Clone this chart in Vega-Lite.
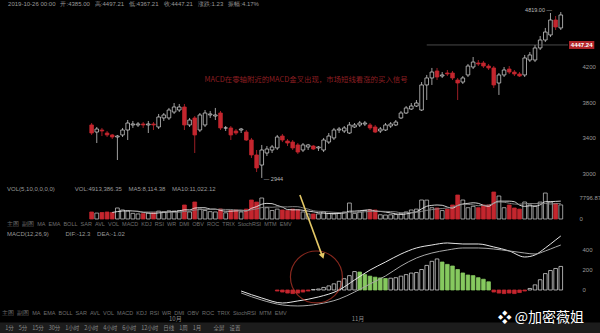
{
  "$schema": "https://vega.github.io/schema/vega-lite/v6.json",
  "background": "#000000",
  "padding": 0,
  "spacing": 0,
  "bounds": "flush",
  "config": {
    "view": {"stroke": null},
    "axis": {"labelColor": "#9a9a9a", "labelFontSize": 6, "labelFont": "Liberation Sans", "ticks": false, "domain": false, "grid": false},
    "text": {"font": "Liberation Sans"}
  },
  "datasets": {
    "candles": [
      {"i":0,"o":3543,"h":3565,"l":3430,"c":3452,"v":2480},
      {"i":1,"o":3463,"h":3520,"l":3339,"c":3497,"v":2100},
      {"i":2,"o":3486,"h":3509,"l":3418,"c":3475,"v":2300},
      {"i":3,"o":3452,"h":3475,"l":3407,"c":3430,"v":2480},
      {"i":4,"o":3430,"h":3441,"l":3384,"c":3407,"v":2300,"m5":2332},
      {"i":5,"o":3407,"h":3430,"l":3147,"c":3418,"v":3900,"m5":2616},
      {"i":6,"o":3430,"h":3509,"l":3407,"c":3486,"v":3200,"m5":2836},
      {"i":7,"o":3486,"h":3599,"l":3373,"c":3565,"v":2800,"m5":2936},
      {"i":8,"o":3543,"h":3588,"l":3509,"c":3554,"v":2000,"m5":2840},
      {"i":9,"o":3543,"h":3576,"l":3520,"c":3554,"v":1800,"m5":2740,"m10":2536},
      {"i":10,"o":3554,"h":3576,"l":3509,"c":3543,"v":1900,"m5":2340,"m10":2478},
      {"i":11,"o":3543,"h":3588,"l":3452,"c":3554,"v":2100,"m5":2120,"m10":2478},
      {"i":12,"o":3554,"h":3576,"l":3486,"c":3543,"v":2200,"m5":2000,"m10":2468},
      {"i":13,"o":3520,"h":3667,"l":3497,"c":3633,"v":2800,"m5":2160,"m10":2500},
      {"i":14,"o":3622,"h":3678,"l":3588,"c":3656,"v":2600,"m5":2320,"m10":2530},
      {"i":15,"o":3622,"h":3735,"l":3599,"c":3712,"v":2900,"m5":2520,"m10":2430},
      {"i":16,"o":3689,"h":3791,"l":3667,"c":3746,"v":2800,"m5":2660,"m10":2390},
      {"i":17,"o":3712,"h":3780,"l":3689,"c":3746,"v":3000,"m5":2820,"m10":2410},
      {"i":18,"o":3746,"h":3780,"l":3486,"c":3543,"v":4960,"m5":3252,"m10":2706},
      {"i":19,"o":3543,"h":3622,"l":3520,"c":3599,"v":2500,"m5":3232,"m10":2776},
      {"i":20,"o":3622,"h":3644,"l":3226,"c":3430,"v":6020,"m5":3856,"m10":3188},
      {"i":21,"o":3486,"h":3678,"l":3463,"c":3656,"v":3500,"m5":3996,"m10":3328},
      {"i":22,"o":3543,"h":3712,"l":3520,"c":3678,"v":3000,"m5":3996,"m10":3408},
      {"i":23,"o":3656,"h":3701,"l":3622,"c":3667,"v":2600,"m5":3524,"m10":3388},
      {"i":24,"o":3644,"h":3735,"l":3599,"c":3656,"v":2500,"m5":3524,"m10":3378},
      {"i":25,"o":3678,"h":3701,"l":3486,"c":3509,"v":3540,"m5":3028,"m10":3442},
      {"i":26,"o":3509,"h":3531,"l":3475,"c":3509,"v":2200,"m5":2768,"m10":3382},
      {"i":27,"o":3509,"h":3531,"l":3373,"c":3430,"v":3000,"m5":2768,"m10":3382},
      {"i":28,"o":3475,"h":3497,"l":3430,"c":3452,"v":3190,"m5":2886,"m10":3205},
      {"i":29,"o":3486,"h":3509,"l":3452,"c":3497,"v":2500,"m5":2886,"m10":3205},
      {"i":30,"o":3463,"h":3486,"l":3362,"c":3373,"v":3500,"m5":2878,"m10":2953},
      {"i":31,"o":3373,"h":3396,"l":3170,"c":3204,"v":6730,"m5":3784,"m10":3276},
      {"i":32,"o":3204,"h":3260,"l":3011,"c":3057,"v":6000,"m5":4384,"m10":3576},
      {"i":33,"o":3090,"h":3317,"l":2944,"c":3260,"v":7440,"m5":5234,"m10":4060},
      {"i":34,"o":3226,"h":3305,"l":3192,"c":3271,"v":4000,"m5":5534,"m10":4210},
      {"i":35,"o":3260,"h":3317,"l":3226,"c":3294,"v":3000,"m5":5434,"m10":4156},
      {"i":36,"o":3283,"h":3430,"l":3260,"c":3407,"v":3500,"m5":4788,"m10":4286},
      {"i":37,"o":3418,"h":3441,"l":3350,"c":3373,"v":3200,"m5":4228,"m10":4306},
      {"i":38,"o":3362,"h":3384,"l":3305,"c":3339,"v":3000,"m5":3340,"m10":4287},
      {"i":39,"o":3350,"h":3373,"l":3260,"c":3283,"v":3500,"m5":3240,"m10":4387},
      {"i":40,"o":3317,"h":3339,"l":3215,"c":3237,"v":3190,"m5":3278,"m10":4356},
      {"i":41,"o":3260,"h":3339,"l":3237,"c":3317,"v":2500,"m5":3078,"m10":3933},
      {"i":42,"o":3294,"h":3328,"l":3260,"c":3317,"v":1800,"m5":2798,"m10":3513},
      {"i":43,"o":3305,"h":3317,"l":3260,"c":3271,"v":1770,"m5":2552,"m10":2946},
      {"i":44,"o":3283,"h":3305,"l":3249,"c":3294,"v":1800,"m5":2212,"m10":2726},
      {"i":45,"o":3260,"h":3396,"l":3237,"c":3373,"v":2500,"m5":2074,"m10":2676},
      {"i":46,"o":3350,"h":3452,"l":3328,"c":3418,"v":1900,"m5":1954,"m10":2516},
      {"i":47,"o":3396,"h":3509,"l":3373,"c":3486,"v":1770,"m5":1948,"m10":2373},
      {"i":48,"o":3486,"h":3520,"l":3452,"c":3497,"v":2000,"m5":1994,"m10":2273},
      {"i":49,"o":3475,"h":3531,"l":3452,"c":3509,"v":2480,"m5":2130,"m10":2171},
      {"i":50,"o":3452,"h":3576,"l":3441,"c":3543,"v":5660,"m5":2762,"m10":2418},
      {"i":51,"o":3520,"h":3565,"l":3509,"c":3543,"v":2000,"m5":2782,"m10":2368},
      {"i":52,"o":3543,"h":3588,"l":3520,"c":3565,"v":2500,"m5":2928,"m10":2438},
      {"i":53,"o":3554,"h":3588,"l":3531,"c":3565,"v":3000,"m5":3128,"m10":2561},
      {"i":54,"o":3543,"h":3565,"l":3486,"c":3509,"v":3190,"m5":3270,"m10":2700},
      {"i":55,"o":3520,"h":3543,"l":3452,"c":3463,"v":3190,"m5":2776,"m10":2769},
      {"i":56,"o":3475,"h":3520,"l":3452,"c":3497,"v":1500,"m5":2676,"m10":2729},
      {"i":57,"o":3486,"h":3565,"l":3475,"c":3543,"v":1400,"m5":2456,"m10":2692},
      {"i":58,"o":3531,"h":3576,"l":3509,"c":3554,"v":1500,"m5":2156,"m10":2642},
      {"i":59,"o":3543,"h":3599,"l":3531,"c":3576,"v":1600,"m5":1838,"m10":2554},
      {"i":60,"o":3622,"h":3701,"l":3610,"c":3678,"v":2000,"m5":1600,"m10":2188},
      {"i":61,"o":3678,"h":3757,"l":3667,"c":3735,"v":2500,"m5":1800,"m10":2238},
      {"i":62,"o":3723,"h":3791,"l":3712,"c":3757,"v":3190,"m5":2158,"m10":2307},
      {"i":63,"o":3757,"h":3825,"l":3746,"c":3791,"v":3500,"m5":2558,"m10":2357},
      {"i":64,"o":3712,"h":4028,"l":3701,"c":3995,"v":6730,"m5":3584,"m10":2711},
      {"i":65,"o":3995,"h":4108,"l":3825,"c":4074,"v":6700,"m5":4524,"m10":3062},
      {"i":66,"o":4074,"h":4187,"l":3995,"c":4141,"v":4000,"m5":4824,"m10":3312},
      {"i":67,"o":4153,"h":4187,"l":4051,"c":4085,"v":3900,"m5":4966,"m10":3562},
      {"i":68,"o":4096,"h":4141,"l":4074,"c":4108,"v":3000,"m5":4866,"m10":3712},
      {"i":69,"o":4130,"h":4164,"l":4096,"c":4119,"v":3500,"m5":4220,"m10":3902},
      {"i":70,"o":4130,"h":4153,"l":4051,"c":4074,"v":4960,"m5":3872,"m10":4198},
      {"i":71,"o":4051,"h":4074,"l":3825,"c":4017,"v":8500,"m5":4772,"m10":4798},
      {"i":72,"o":4028,"h":4096,"l":4006,"c":4074,"v":6730,"m5":5338,"m10":5152},
      {"i":73,"o":4108,"h":4232,"l":4085,"c":4209,"v":4000,"m5":5538,"m10":5202},
      {"i":74,"o":4198,"h":4311,"l":4175,"c":4254,"v":4500,"m5":5738,"m10":4979},
      {"i":75,"o":4243,"h":4277,"l":4209,"c":4232,"v":4000,"m5":5546,"m10":4709},
      {"i":76,"o":4243,"h":4266,"l":4187,"c":4209,"v":4960,"m5":4838,"m10":4805},
      {"i":77,"o":4209,"h":4232,"l":4164,"c":4187,"v":4960,"m5":4484,"m10":4911},
      {"i":78,"o":4187,"h":4209,"l":3961,"c":3995,"v":9560,"m5":5596,"m10":5567},
      {"i":79,"o":4017,"h":4130,"l":3882,"c":4108,"v":8150,"m5":6326,"m10":6032},
      {"i":80,"o":4108,"h":4198,"l":4085,"c":4164,"v":4000,"m5":6326,"m10":5936},
      {"i":81,"o":4175,"h":4209,"l":4119,"c":4141,"v":4960,"m5":6326,"m10":5582},
      {"i":82,"o":4141,"h":4164,"l":4096,"c":4119,"v":3900,"m5":6114,"m10":5299},
      {"i":83,"o":4119,"h":4141,"l":4085,"c":4096,"v":3500,"m5":4902,"m10":5249},
      {"i":84,"o":4108,"h":4334,"l":4085,"c":4300,"v":6020,"m5":4476,"m10":5401},
      {"i":85,"o":4277,"h":4367,"l":4254,"c":4334,"v":5000,"m5":4676,"m10":5501},
      {"i":86,"o":4277,"h":4447,"l":4254,"c":4413,"v":4500,"m5":4584,"m10":5455},
      {"i":87,"o":4413,"h":4548,"l":4390,"c":4503,"v":6000,"m5":5004,"m10":5559},
      {"i":88,"o":4503,"h":4639,"l":4480,"c":4593,"v":9200,"m5":6144,"m10":5523},
      {"i":89,"o":4560,"h":4808,"l":4537,"c":4729,"v":6000,"m5":6140,"m10":5308},
      {"i":90,"o":4729,"h":4774,"l":4616,"c":4650,"v":5500,"m5":6240,"m10":5458},
      {"i":91,"o":4639,"h":4819,"l":4616,"c":4786,"v":5000,"m5":6340,"m10":5462}
    ],
    "hist": [
      {"i":36,"h":-10},{"i":37,"h":-20},{"i":38,"h":-30},{"i":39,"h":-35},{"i":40,"h":-30},
      {"i":41,"h":-20},{"i":42,"h":-10},{"i":43,"h":5},{"i":44,"h":10},{"i":45,"h":25},
      {"i":46,"h":40},{"i":47,"h":60},{"i":48,"h":85},{"i":49,"h":110},{"i":50,"h":140},
      {"i":51,"h":180},{"i":52,"h":175},{"i":53,"h":150},{"i":54,"h":135},{"i":55,"h":125},
      {"i":56,"h":118},{"i":57,"h":112},{"i":58,"h":115},{"i":59,"h":120},{"i":60,"h":135},
      {"i":61,"h":150},{"i":62,"h":165},{"i":63,"h":170},{"i":64,"h":200},{"i":65,"h":240},
      {"i":66,"h":280},{"i":67,"h":303},{"i":68,"h":273},{"i":69,"h":250},{"i":70,"h":234},
      {"i":71,"h":200},{"i":72,"h":166},{"i":73,"h":146},{"i":74,"h":140},{"i":75,"h":120},
      {"i":76,"h":105},{"i":77,"h":80},{"i":78,"h":-20},{"i":79,"h":-30},{"i":80,"h":-35},
      {"i":81,"h":-30},{"i":82,"h":-35},{"i":83,"h":-25},{"i":84,"h":-10},{"i":85,"h":15},
      {"i":86,"h":50},{"i":87,"h":100},{"i":88,"h":160},{"i":89,"h":190},{"i":90,"h":210},
      {"i":91,"h":230}
    ],
    "lines": [
      {"i":29,"dif":-10,"dea":-29},{"i":33,"dif":-78,"dea":-98},{"i":37,"dif":-127,"dea":-146},
      {"i":40,"dif":-107,"dea":-156},{"i":44,"dif":-68,"dea":-137},{"i":48,"dif":0,"dea":-88},
      {"i":51,"dif":98,"dea":-20},{"i":54,"dif":195,"dea":59},{"i":57,"dif":273,"dea":137},
      {"i":60,"dif":351,"dea":234},{"i":63,"dif":410,"dea":312},{"i":66,"dif":439,"dea":361},
      {"i":69,"dif":459,"dea":390},{"i":72,"dif":449,"dea":410},{"i":75,"dif":449,"dea":410},
      {"i":78,"dif":420,"dea":400},{"i":81,"dif":381,"dea":381},{"i":84,"dif":322,"dea":361},
      {"i":86,"dif":342,"dea":351},{"i":88,"dif":410,"dea":381},{"i":90,"dif":488,"dea":420},
      {"i":91,"dif":527,"dea":439}
    ]
  },
  "vconcat": [
    {
      "width": 573,
      "height": 185,
      "layer": [
        {
          "data": {"name": "candles"},
          "mark": {"type": "rule", "strokeWidth": 0.8},
          "encoding": {
            "x": {"field": "i", "type": "quantitative", "scale": {"domain": [-16.8, 92.4], "nice": false, "zero": false}, "axis": null},
            "y": {"field": "l", "type": "quantitative", "scale": {"domain": [2864.5, 4955], "nice": false, "zero": false},
                  "axis": {"orient": "right", "values": [3000, 3200, 3400, 3600, 3800, 4000, 4200, 4600], "format": "d", "title": null, "labelPadding": 9, "minExtent": 27, "maxExtent": 27}},
            "y2": {"field": "h"},
            "color": {"condition": {"test": "datum.c < datum.o", "value": "#c4262e"}, "value": "#c8c8c8"}
          }
        },
        {
          "data": {"name": "candles"},
          "mark": {"type": "bar", "size": 3.6, "strokeWidth": 0.8},
          "encoding": {
            "x": {"field": "i", "type": "quantitative", "scale": {"domain": [-16.8, 92.4], "nice": false, "zero": false}},
            "y": {"field": "o", "type": "quantitative", "scale": {"domain": [2864.5, 4955], "nice": false, "zero": false}},
            "y2": {"field": "c"},
            "fill": {"condition": {"test": "datum.c < datum.o", "value": "#c4262e"}, "value": "#000000"},
            "stroke": {"condition": {"test": "datum.c < datum.o", "value": "#c4262e"}, "value": "#c8c8c8"}
          }
        },
        {
          "data": {"values": [{}]},
          "mark": {"type": "rule", "color": "#6a6a6a", "strokeWidth": 0.7, "clip": false},
          "encoding": {
            "x": {"datum": 65, "type": "quantitative"},
            "x2": {"datum": 92.4},
            "y": {"datum": 4447, "type": "quantitative"}
          }
        },
        {
          "data": {"values": [{}]},
          "mark": {"type": "rect", "color": "#b3262b", "clip": false},
          "encoding": {
            "x": {"datum": 92.6, "type": "quantitative"},
            "x2": {"datum": 97.5},
            "y": {"datum": 4492, "type": "quantitative"},
            "y2": {"datum": 4402}
          }
        },
        {
          "data": {"values": [{}]},
          "mark": {"type": "text", "color": "#ffffff", "fontSize": 6, "fontWeight": "bold", "align": "center", "baseline": "middle", "clip": false},
          "encoding": {
            "x": {"datum": 95.05, "type": "quantitative"},
            "y": {"datum": 4447, "type": "quantitative"},
            "text": {"value": "4447.24"}
          }
        },
        {
          "data": {"values": [{}]},
          "mark": {"type": "text", "color": "#9a9a9a", "fontSize": 6, "align": "left", "baseline": "middle"},
          "encoding": {
            "x": {"datum": -16.2, "type": "quantitative"},
            "y": {"datum": 4905, "type": "quantitative"},
            "text": {"value": "2019-10-26 00:00\u00a0\u00a0\u00a0开:4385.00\u00a0\u00a0\u00a0高:4497.21\u00a0\u00a0\u00a0低:4367.21\u00a0\u00a0\u00a0收:4447.21\u00a0\u00a0\u00a0涨跌:1.23\u00a0\u00a0\u00a0振幅:4.17%"}
          }
        },
        {
          "data": {"values": [{}]},
          "mark": {"type": "text", "color": "#8e1f22", "fontSize": 7.4, "font": "Noto Sans CJK SC", "align": "left", "baseline": "middle"},
          "encoding": {
            "x": {"datum": 21.9, "type": "quantitative"},
            "y": {"datum": 4051, "type": "quantitative"},
            "text": {"value": "MACD在零轴附近的MACD金叉出现，市场短线看涨的买入信号"}
          }
        },
        {
          "data": {"values": [{}]},
          "mark": {"type": "text", "color": "#bbbbbb", "fontSize": 5.5, "align": "left", "baseline": "middle"},
          "encoding": {
            "x": {"datum": 33.4, "type": "quantitative"},
            "y": {"datum": 2935, "type": "quantitative"},
            "text": {"value": "— 2944"}
          }
        },
        {
          "data": {"values": [{}]},
          "mark": {"type": "text", "color": "#bbbbbb", "fontSize": 5.5, "align": "right", "baseline": "middle"},
          "encoding": {
            "x": {"datum": 89.3, "type": "quantitative"},
            "y": {"datum": 4840, "type": "quantitative"},
            "text": {"value": "4819.00 —"}
          }
        }
      ]
    },
    {
      "width": 573,
      "height": 43,
      "layer": [
        {
          "data": {"name": "candles"},
          "mark": {"type": "bar", "size": 3.8, "strokeWidth": 0.8},
          "encoding": {
            "x": {"field": "i", "type": "quantitative", "scale": {"domain": [-16.8, 92.4], "nice": false, "zero": false}, "axis": null},
            "y": {"field": "v", "type": "quantitative", "scale": {"domain": [-3190, 12050], "nice": false, "zero": false},
                  "axis": {"orient": "right", "values": [0, 7796.87], "labelExpr": "datum.value == 0 ? '0' : '7796.87'", "title": null, "labelPadding": 6, "minExtent": 27, "maxExtent": 27}},
            "y2": {"datum": 0},
            "fill": {"condition": {"test": "datum.c < datum.o", "value": "#c4262e"}, "value": "#000000"},
            "stroke": {"condition": {"test": "datum.c < datum.o", "value": "#c4262e"}, "value": "#bdbdbd"}
          }
        },
        {
          "data": {"name": "candles"},
          "mark": {"type": "line", "color": "#e8e8e8", "strokeWidth": 0.9, "interpolate": "monotone"},
          "encoding": {
            "x": {"field": "i", "type": "quantitative", "scale": {"domain": [-16.8, 92.4], "nice": false, "zero": false}},
            "y": {"field": "m5", "type": "quantitative", "scale": {"domain": [-3190, 12050], "nice": false, "zero": false}}
          }
        },
        {
          "data": {"name": "candles"},
          "mark": {"type": "line", "color": "#8a8a8a", "strokeWidth": 0.9, "interpolate": "monotone"},
          "encoding": {
            "x": {"field": "i", "type": "quantitative", "scale": {"domain": [-16.8, 92.4], "nice": false, "zero": false}},
            "y": {"field": "m10", "type": "quantitative", "scale": {"domain": [-3190, 12050], "nice": false, "zero": false}}
          }
        },
        {
          "data": {"values": [{}]},
          "mark": {"type": "text", "color": "#9a9a9a", "fontSize": 6, "align": "left", "baseline": "middle"},
          "encoding": {
            "x": {"datum": -16.4, "type": "quantitative"},
            "y": {"datum": 10600, "type": "quantitative"},
            "text": {"value": "VOL(5,10,0,0,0,0)\u00a0\u00a0\u00a0\u00a0\u00a0\u00a0\u00a0\u00a0\u00a0\u00a0\u00a0\u00a0VOL:4913,386.35\u00a0\u00a0\u00a0\u00a0MA5:8,114.38\u00a0\u00a0\u00a0\u00a0MA10:11,022.12"}
          }
        },
        {
          "data": {"values": [{}]},
          "mark": {"type": "text", "color": "#6f6f6f", "fontSize": 5.5, "align": "left", "baseline": "middle"},
          "encoding": {
            "x": {"datum": -16.4, "type": "quantitative"},
            "y": {"datum": -1900, "type": "quantitative"},
            "text": {"value": "主图\u00a0\u00a0副图\u00a0\u00a0MA\u00a0\u00a0EMA\u00a0\u00a0BOLL\u00a0\u00a0SAR\u00a0\u00a0AVL\u00a0\u00a0VOL\u00a0\u00a0MACD\u00a0\u00a0KDJ\u00a0\u00a0RSI\u00a0\u00a0WR\u00a0\u00a0DMI\u00a0\u00a0OBV\u00a0\u00a0ROC\u00a0\u00a0TRIX\u00a0\u00a0StochRSI\u00a0\u00a0MTM\u00a0\u00a0EMV"}
          }
        }
      ]
    },
    {
      "width": 573,
      "height": 83,
      "layer": [
        {
          "data": {"name": "hist"},
          "transform": [{"window": [{"op": "lag", "field": "h", "as": "prev"}], "sort": [{"field": "i"}]}],
          "mark": {"type": "bar", "size": 3.6, "strokeWidth": 0.8},
          "encoding": {
            "x": {"field": "i", "type": "quantitative", "scale": {"domain": [-16.8, 92.4], "nice": false, "zero": false}, "axis": null},
            "y": {"field": "h", "type": "quantitative", "scale": {"domain": [-205, 605], "nice": false, "zero": false},
                  "axis": {"orient": "right", "values": [0, 200, 400], "title": null, "labelPadding": 9, "minExtent": 27, "maxExtent": 27}},
            "y2": {"datum": 0},
            "fill": {"condition": [{"test": "datum.h < 0", "value": "#c4262e"}, {"test": "datum.h >= datum.prev", "value": "#000000"}], "value": "#86c95f"},
            "stroke": {"condition": [{"test": "datum.h < 0", "value": "#c4262e"}, {"test": "datum.h >= datum.prev", "value": "#cfcfcf"}], "value": "#86c95f"}
          }
        },
        {
          "data": {"name": "lines"},
          "mark": {"type": "line", "color": "#e6e6e6", "strokeWidth": 1, "interpolate": "monotone"},
          "encoding": {
            "x": {"field": "i", "type": "quantitative", "scale": {"domain": [-16.8, 92.4], "nice": false, "zero": false}},
            "y": {"field": "dif", "type": "quantitative", "scale": {"domain": [-205, 605], "nice": false, "zero": false}}
          }
        },
        {
          "data": {"name": "lines"},
          "mark": {"type": "line", "color": "#a8a8a8", "strokeWidth": 1, "interpolate": "monotone"},
          "encoding": {
            "x": {"field": "i", "type": "quantitative", "scale": {"domain": [-16.8, 92.4], "nice": false, "zero": false}},
            "y": {"field": "dea", "type": "quantitative", "scale": {"domain": [-205, 605], "nice": false, "zero": false}}
          }
        },
        {
          "data": {"values": [{}]},
          "mark": {"type": "text", "color": "#9a9a9a", "fontSize": 6, "align": "left", "baseline": "middle"},
          "encoding": {
            "x": {"datum": -16.4, "type": "quantitative"},
            "y": {"datum": 547, "type": "quantitative"},
            "text": {"value": "MACD(12,26,9)\u00a0\u00a0\u00a0\u00a0\u00a0\u00a0\u00a0\u00a0\u00a0\u00a0DIF:-12.3\u00a0\u00a0\u00a0\u00a0DEA:-1.02"}
          }
        },
        {
          "data": {"values": [{}]},
          "mark": {"type": "point", "shape": "circle", "filled": false, "size": 2700, "color": "#c0392b", "strokeWidth": 1.2, "clip": false},
          "encoding": {
            "x": {"datum": 43.6, "type": "quantitative"},
            "y": {"datum": 127, "type": "quantitative"}
          }
        },
        {
          "data": {"values": [{}]},
          "mark": {"type": "rule", "color": "#e3c766", "strokeWidth": 1.6, "clip": false},
          "encoding": {
            "x": {"datum": 40.4, "type": "quantitative"},
            "x2": {"datum": 44.6},
            "y": {"datum": 928, "type": "quantitative"},
            "y2": {"datum": 350}
          }
        },
        {
          "data": {"values": [{}]},
          "mark": {"type": "point", "shape": "triangle-down", "filled": true, "size": 40, "color": "#e3c766", "angle": 341, "opacity": 1, "clip": false},
          "encoding": {
            "x": {"datum": 44.8, "type": "quantitative"},
            "y": {"datum": 330, "type": "quantitative"}
          }
        }
      ]
    },
    {
      "width": 600,
      "height": 22,
      "layer": [
        {
          "data": {"values": [{}]},
          "mark": {"type": "rect", "color": "#1c1c1c"},
          "encoding": {
            "x": {"datum": -16.8, "type": "quantitative", "scale": {"domain": [-16.8, 97.5], "nice": false, "zero": false}, "axis": null},
            "x2": {"datum": 97.5},
            "y": {"datum": 11.5, "type": "quantitative", "scale": {"domain": [0, 22], "reverse": true, "nice": false, "zero": false}, "axis": null},
            "y2": {"datum": 22}
          }
        },
        {
          "data": {"values": [{}]},
          "mark": {"type": "text", "color": "#6f6f6f", "fontSize": 5.5, "align": "left", "baseline": "middle"},
          "encoding": {
            "x": {"datum": -16.4, "type": "quantitative"},
            "y": {"datum": 1.5, "type": "quantitative"},
            "text": {"value": "主图\u00a0\u00a0副图\u00a0\u00a0MA\u00a0\u00a0EMA\u00a0\u00a0BOLL\u00a0\u00a0SAR\u00a0\u00a0AVL\u00a0\u00a0VOL\u00a0\u00a0MACD\u00a0\u00a0KDJ\u00a0\u00a0RSI\u00a0\u00a0WR\u00a0\u00a0DMI\u00a0\u00a0OBV\u00a0\u00a0ROC\u00a0\u00a0TRIX\u00a0\u00a0StochRSI\u00a0\u00a0MTM\u00a0\u00a0EMV"}
          }
        },
        {
          "data": {"values": [{"m": "10月", "i": 16.6}, {"m": "11月", "i": 51.4}]},
          "mark": {"type": "text", "color": "#8a8a8a", "fontSize": 6, "font": "Noto Sans CJK SC", "align": "center", "baseline": "middle"},
          "encoding": {
            "x": {"field": "i", "type": "quantitative"},
            "y": {"datum": 8, "type": "quantitative"},
            "text": {"field": "m"}
          }
        },
        {
          "data": {"values": [{}]},
          "mark": {"type": "text", "color": "#8a8a8a", "fontSize": 5.5, "font": "Noto Sans CJK SC", "align": "left", "baseline": "middle"},
          "encoding": {
            "x": {"datum": -15.8, "type": "quantitative"},
            "y": {"datum": 17.3, "type": "quantitative"},
            "text": {"value": "1分\u00a0\u00a0\u00a0\u00a05分\u00a0\u00a0\u00a0\u00a015分\u00a0\u00a0\u00a0\u00a030分\u00a0\u00a0\u00a0\u00a01小时\u00a0\u00a0\u00a0\u00a02小时\u00a0\u00a0\u00a0\u00a04小时\u00a0\u00a0\u00a0\u00a06小时\u00a0\u00a0\u00a0\u00a012小时\u00a0\u00a0\u00a0\u00a0日线\u00a0\u00a0\u00a0\u00a01周\u00a0\u00a0\u00a0\u00a01月\u00a0\u00a0\u00a0\u00a0\u00a0\u00a0\u00a0\u00a0\u00a0\u00a0全屏\u00a0\u00a0\u00a0\u00a0设置"}
          }
        },
        {
          "data": {"values": [{}]},
          "mark": {"type": "text", "color": "#ffffff", "fontSize": 14, "font": "Noto Sans CJK SC", "align": "left", "baseline": "middle"},
          "encoding": {
            "x": {"datum": 78, "type": "quantitative"},
            "y": {"datum": 7, "type": "quantitative"},
            "text": {"value": "❖ @加密薇姐"}
          }
        }
      ]
    }
  ]
}
